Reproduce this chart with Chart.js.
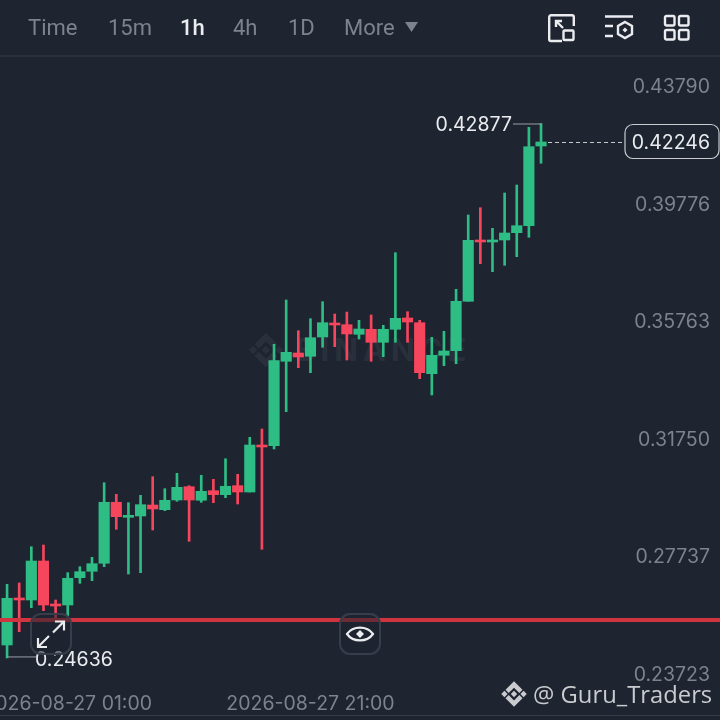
<!DOCTYPE html>
<html>
<head>
<meta charset="utf-8">
<script src="https://cdn.jsdelivr.net/npm/chart.js@4/dist/chart.umd.min.js"></script>
<style>
  html, body { margin: 0; padding: 0; background: #1e2430; }
  #wrap { position: relative; width: 720px; height: 720px; overflow: hidden; background: #1e2430; font-family: Inter, sans-serif; }
  #chart { position: absolute; left: 0; top: 0; z-index: 2; }
  .tab { position: absolute; top: 14px; font-size: 22px; line-height: 28px; color: #7c838d; z-index: 3; font-family: Roboto, sans-serif; }
  .tab.on { color: #eaecef; font-weight: 500; }
  .ico { position: absolute; z-index: 3; fill: none; stroke: #eaecef; stroke-width: 2.4; }
  .btn { position: absolute; top: 613px; width: 42px; height: 42px; box-sizing: border-box; border: 2px solid #373d4a; border-radius: 11px; background: rgba(30,36,48,.55); z-index: 4; }
  .btn svg { position: absolute; left: -2px; top: -2px; fill: none; stroke: #eaecef; stroke-width: 2.2; }
  #headLine { position: absolute; left: 0; top: 55px; width: 720px; height: 2px; background: #2a303c; z-index: 1; }
  #footLine { position: absolute; left: 0; top: 715px; width: 720px; height: 1px; background: #353b47; z-index: 1; }
  #mark { position: absolute; left: 248px; top: 330px; z-index: 1; color: #2a303b; font-size: 31px; font-weight: 700; letter-spacing: 5px; line-height: 40px; padding-left: 47px; white-space: nowrap; }
  #mark svg { position: absolute; left: -5px; top: -3px; fill: #2a303b; }
  #credit { position: absolute; left: 533px; top: 676px; z-index: 3; color: #c9cbcf; font-size: 23.8px; line-height: 36px; font-family: "Open Sans", sans-serif; white-space: nowrap; }
  #logo { position: absolute; left: 497px; top: 677px; z-index: 3; fill: #c9cbcf; }
</style>
</head>
<body>
<div id="wrap">
  <div id="mark"><svg width="46" height="46" viewBox="0 0 32 32"><polygon points="16,4 24,12 21,15 16,10 11,15 8,12"/><polygon points="16,28 24,20 21,17 16,22 11,17 8,20"/><polygon points="4,16 7,13 10,16 7,19"/><polygon points="28,16 25,13 22,16 25,19"/><polygon points="16,13 19,16 16,19 13,16"/></svg>BINANCE</div>
  <canvas id="chart" width="720" height="720"></canvas>

  <div id="headLine"></div>
  <div class="tab" style="left:28px">Time</div>
  <div class="tab" style="left:108px">15m</div>
  <div class="tab on" style="left:180px">1h</div>
  <div class="tab" style="left:233px">4h</div>
  <div class="tab" style="left:288px">1D</div>
  <div class="tab" style="left:344px">More</div>
  <svg style="position:absolute;left:404px;top:21px;z-index:3" width="15" height="12"><polygon points="1,1 14,1 7.5,11" fill="#7c838d"/></svg>

  <svg class="ico" style="left:547px;top:13px" width="30" height="30" viewBox="0 0 30 30"><path d="M15 28H4a1.8 1.8 0 0 1-1.8-1.8V4A1.8 1.8 0 0 1 4 2.2h21A1.8 1.8 0 0 1 26.800 4v9"/><rect x="16.500" y="17.500" width="10" height="9.500" rx="1"/><path d="M9 8l7 7M9 14V8h6"/></svg>
  <svg class="ico" style="left:604px;top:13px" width="31" height="30" viewBox="0 0 31 30"><path d="M1 3.500h28M1 13h8M1 23h8"/><polygon points="21,9 28,13 28,21 21,25 14,21 14,13"/><polygon points="21,14.500 23.500,17 21,19.500 18.500,17" fill="#eaecef" stroke="none"/></svg>
  <svg class="ico" style="left:663px;top:14px" width="28" height="28" viewBox="0 0 28 28"><rect x="2" y="2" width="9.500" height="9.500" rx="1.500"/><rect x="16" y="2" width="9.500" height="9.500" rx="1.500"/><rect x="2" y="16" width="9.500" height="9.500" rx="1.500"/><rect x="16" y="16" width="9.500" height="9.500" rx="1.500"/></svg>

  <div class="btn" style="left:30px"><svg width="42" height="42" viewBox="0 0 42 42"><path d="M23 19.500L33 9.500M25 8.500h9v9M19 23L9 33M8 25v9h9"/></svg></div>
  <div class="btn" style="left:339px"><svg width="42" height="42" viewBox="0 0 42 42"><path d="M8 21C14 12.500 28 12.500 34 21C28 29.500 14 29.500 8 21Z"/><polygon points="21,17 25,21 21,25 17,21" fill="#eaecef" stroke="none"/></svg></div>

  <svg id="logo" width="34" height="34" viewBox="0 0 32 32"><polygon points="16,4 24,12 21,15 16,10 11,15 8,12"/><polygon points="16,28 24,20 21,17 16,22 11,17 8,20"/><polygon points="4,16 7,13 10,16 7,19"/><polygon points="28,16 25,13 22,16 25,19"/><polygon points="16,13 19,16 16,19 13,16"/></svg>
  <div id="credit">@ Guru_Traders</div>
  <div id="footLine"></div>
</div>

<script>
const opens  = [0.25078,0.26665,0.26614,0.27945,0.26460,0.26443,0.27375,0.27594,0.27867,0.29949,0.29436,0.29481,0.29856,0.29696,0.30027,0.30481,0.30017,0.30344,0.30208,0.30515,0.30300,0.31904,0.31880,0.34761,0.35044,0.34932,0.35590,0.36068,0.36010,0.35682,0.35853,0.35409,0.35853,0.36239,0.36078,0.34338,0.34966,0.35123,0.36809,0.38890,0.38833,0.38901,0.39150,0.39389,0.42109];
const highs  = [0.27150,0.27194,0.28433,0.28491,0.26614,0.27546,0.27751,0.28071,0.30617,0.30221,0.29935,0.30187,0.30822,0.30413,0.30938,0.30515,0.30870,0.30733,0.31436,0.30904,0.32167,0.32450,0.35341,0.36853,0.35805,0.36215,0.36795,0.36375,0.36443,0.36160,0.36341,0.35990,0.38467,0.36454,0.36160,0.35580,0.35785,0.37218,0.39754,0.40003,0.39300,0.40505,0.40778,0.42747,0.42877];
const lows   = [0.24636,0.25532,0.26351,0.26249,0.26000,0.26078,0.27184,0.27273,0.27751,0.29027,0.27501,0.27546,0.29003,0.29662,0.29983,0.28617,0.29949,0.29935,0.30105,0.29890,0.30300,0.28344,0.31768,0.33041,0.34542,0.34372,0.35239,0.35259,0.34805,0.35522,0.34761,0.34918,0.35409,0.35409,0.34167,0.33611,0.34611,0.34679,0.36809,0.38092,0.37819,0.38037,0.38331,0.38993,0.41519];
const closes = [0.26672,0.26614,0.27945,0.26443,0.26409,0.27355,0.27580,0.27853,0.29949,0.29457,0.29491,0.29867,0.29720,0.30017,0.30460,0.30027,0.30324,0.30208,0.30495,0.30300,0.31904,0.31836,0.34781,0.35068,0.34908,0.35566,0.36078,0.36000,0.35693,0.35863,0.35409,0.35853,0.36228,0.36102,0.34372,0.34966,0.35112,0.36809,0.38890,0.38833,0.38890,0.39140,0.39389,0.42085,0.42246];

const yTicks = [0.43790, 0.39776, 0.35763, 0.31750, 0.27737, 0.23723];
const xTickIndex = [5, 25];
const xTickLabels = ["2026-08-27 01:00", "2026-08-27 21:00"];

const lastPrice = 0.42246;
const highPrice = 0.42877;
const lowPrice = 0.24636;
const levelPrice = 0.25932;

const SLOTS = 59; // empty slots to the right of the last candle
const GREEN = "#2ebd85";
const RED = "#f6465d";
const FONT = 'Inter, sans-serif';
const TEXT_SIZE = 19.5;

const labels = [];
for (let i = 0; i < SLOTS; i++) labels.push(i);

const colors = opens.map((o, i) => closes[i] >= o ? GREEN : RED);

// no margins for first/last labels, candles have to use the whole width
function noPadding(scale) {
  scale.paddingLeft = scale.paddingRight = scale.paddingTop = scale.paddingBottom = 0;
}

// hand drawn bits, all placed through the scales
const overlays = {
  id: "overlays",
  afterDatasetsDraw(chart) {
    const { ctx, scales: { x, y } } = chart;
    const lastI = opens.length - 1;
    const lowI = lows.indexOf(lowPrice);
    const px = y.getPixelForValue(lastPrice);
    const hx = x.getPixelForValue(lastI);
    const hy = y.getPixelForValue(highPrice);
    const ly = y.getPixelForValue(lowPrice);
    const lx = x.getPixelForValue(lowI);

    ctx.save();
    // red level
    ctx.strokeStyle = "#cf343f";
    ctx.lineWidth = 4;
    ctx.beginPath();
    ctx.moveTo(0, y.getPixelForValue(levelPrice));
    ctx.lineTo(720, y.getPixelForValue(levelPrice));
    ctx.stroke();

    // last price dashed line
    ctx.strokeStyle = "#c9cbcf";
    ctx.lineWidth = 1;
    ctx.setLineDash([4, 3]);
    ctx.beginPath();
    ctx.moveTo(hx + 7, px + 0.5);
    ctx.lineTo(625, px + 0.5);
    ctx.stroke();
    ctx.setLineDash([]);

    // high / low connectors
    ctx.strokeStyle = "#9a9fa6";
    ctx.beginPath();
    ctx.moveTo(513, hy + 0.5);
    ctx.lineTo(hx, hy + 0.5);
    ctx.moveTo(lx, ly - 1);
    ctx.lineTo(36, ly - 1);
    ctx.stroke();

    ctx.font = TEXT_SIZE + "px " + FONT;
    ctx.fillStyle = "#eaecef";
    ctx.textBaseline = "middle";
    ctx.textAlign = "right";
    ctx.fillText(highPrice.toFixed(5), 512, hy + 2);
    ctx.textAlign = "left";
    ctx.fillText(lowPrice.toFixed(5), 35, ly + 2);

    // last price box
    ctx.fillStyle = "#1e2430";
    ctx.strokeStyle = "#c9cbcf";
    ctx.lineWidth = 1.2;
    ctx.beginPath();
    ctx.roundRect(625, px - 17.5, 94, 34, 8);
    ctx.fill();
    ctx.stroke();
    ctx.fillStyle = "#eaecef";
    ctx.textAlign = "right";
    ctx.fillText(lastPrice.toFixed(5), 710, px + 1.5);
    ctx.restore();
  }
};

new Chart(document.getElementById("chart"), {
  type: "bar",
  data: {
    labels,
    datasets: [
      {
        label: "body",
        data: opens.map((o, i) => [o, closes[i]]),
        backgroundColor: colors,
        barThickness: 10.5,
        grouped: false,
        minBarLength: 2,
        order: 1
      },
      {
        label: "wick",
        data: lows.map((l, i) => [l, highs[i]]),
        backgroundColor: colors,
        barThickness: 2,
        grouped: false,
        order: 2
      }
    ]
  },
  options: {
    responsive: false,
    animation: false,
    layout: { padding: { left: 1, right: 3, top: 0, bottom: 0 } },
    plugins: { legend: { display: false }, tooltip: { enabled: false } },
    scales: {
      x: {
        offset: true,
        grid: { display: false, drawTicks: false },
        border: { display: false },
        ticks: {
          autoSkip: false,
          maxRotation: 0,
          padding: 2,
          color: "#7c838d",
          font: { family: FONT, size: TEXT_SIZE },
          callback: (v, i) => {
            const k = xTickIndex.indexOf(i);
            return k >= 0 ? xTickLabels[k] : "";
          }
        },
        afterFit(scale) { scale.height = 30; noPadding(scale); }
      },
      y: {
        position: "right",
        min: 0.23542,
        max: 0.47092,
        grid: { display: false, drawTicks: false },
        border: { display: false },
        afterBuildTicks(scale) { scale.ticks = yTicks.map(v => ({ value: v })); },
        afterFit(scale) { scale.width = 0; noPadding(scale); },
        ticks: {
          mirror: true,
          padding: -7,
          labelOffset: -9.5,
          color: "#7c838d",
          font: { family: FONT, size: TEXT_SIZE },
          callback: v => v.toFixed(5)
        }
      }
    }
  },
  plugins: [overlays]
});
</script>
</body>
</html>
